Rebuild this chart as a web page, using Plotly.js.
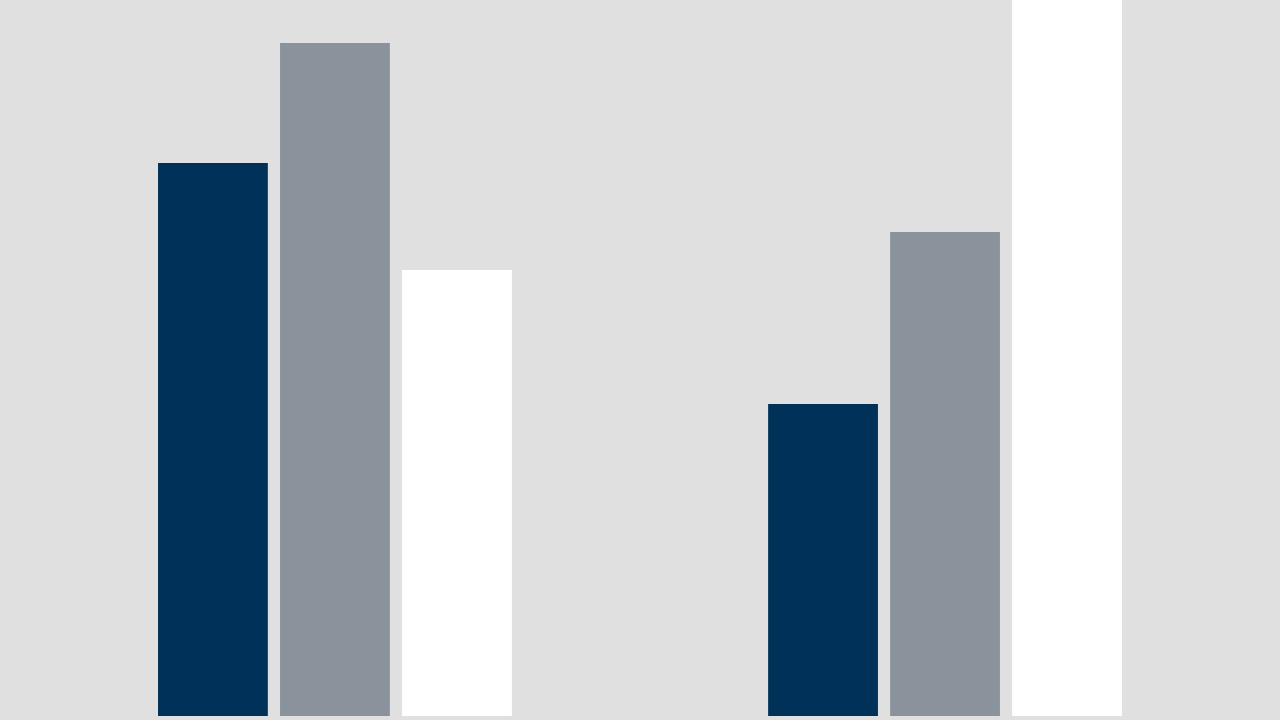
<!DOCTYPE html>
<html>
<head>
<meta charset="utf-8">
<script src="https://cdn.plot.ly/plotly-3.0.1.min.js"></script>
<style>
  html, body { margin: 0; padding: 0; background: #e0e0e0; }
  #chart { width: 1280px; height: 720px; }
</style>
</head>
<body>
<div id="chart"></div>
<script>
// values (arbitrary units, no axis shown)
const groups = ["Group 1", "Group 2"]
const seriesA = [55.3, 31.2]
const seriesB = [67.3, 48.4]
const seriesC = [44.6, 80]

const colors = ["#003259", "#8a939b", "#ffffff"]

const data = [seriesA, seriesB, seriesC].map(function (vals, i){
    return {
        type: "bar",
        x: groups,
        y: vals,
        marker: { color: colors[i], line: { width: 0 } },
        hoverinfo: "none",
        showlegend: false
    }
})

const layout = {
    width: 1280,
    height: 720,
    margin: { l: 0, r: 0, t: 0, b: 4 },
    paper_bgcolor: "#e0e0e0",
    plot_bgcolor: "#e0e0e0",
    barmode: "group",
    bargap: 0.4,
    bargroupgap: 0.1,
    xaxis: { visible: false, range: [-0.549, 1.549], fixedrange: true },
    yaxis: { visible: false, range: [0, 71.6], fixedrange: true }
}

Plotly.newPlot("chart", data, layout, { displayModeBar: false, staticPlot: true })
</script>
</body>
</html>
